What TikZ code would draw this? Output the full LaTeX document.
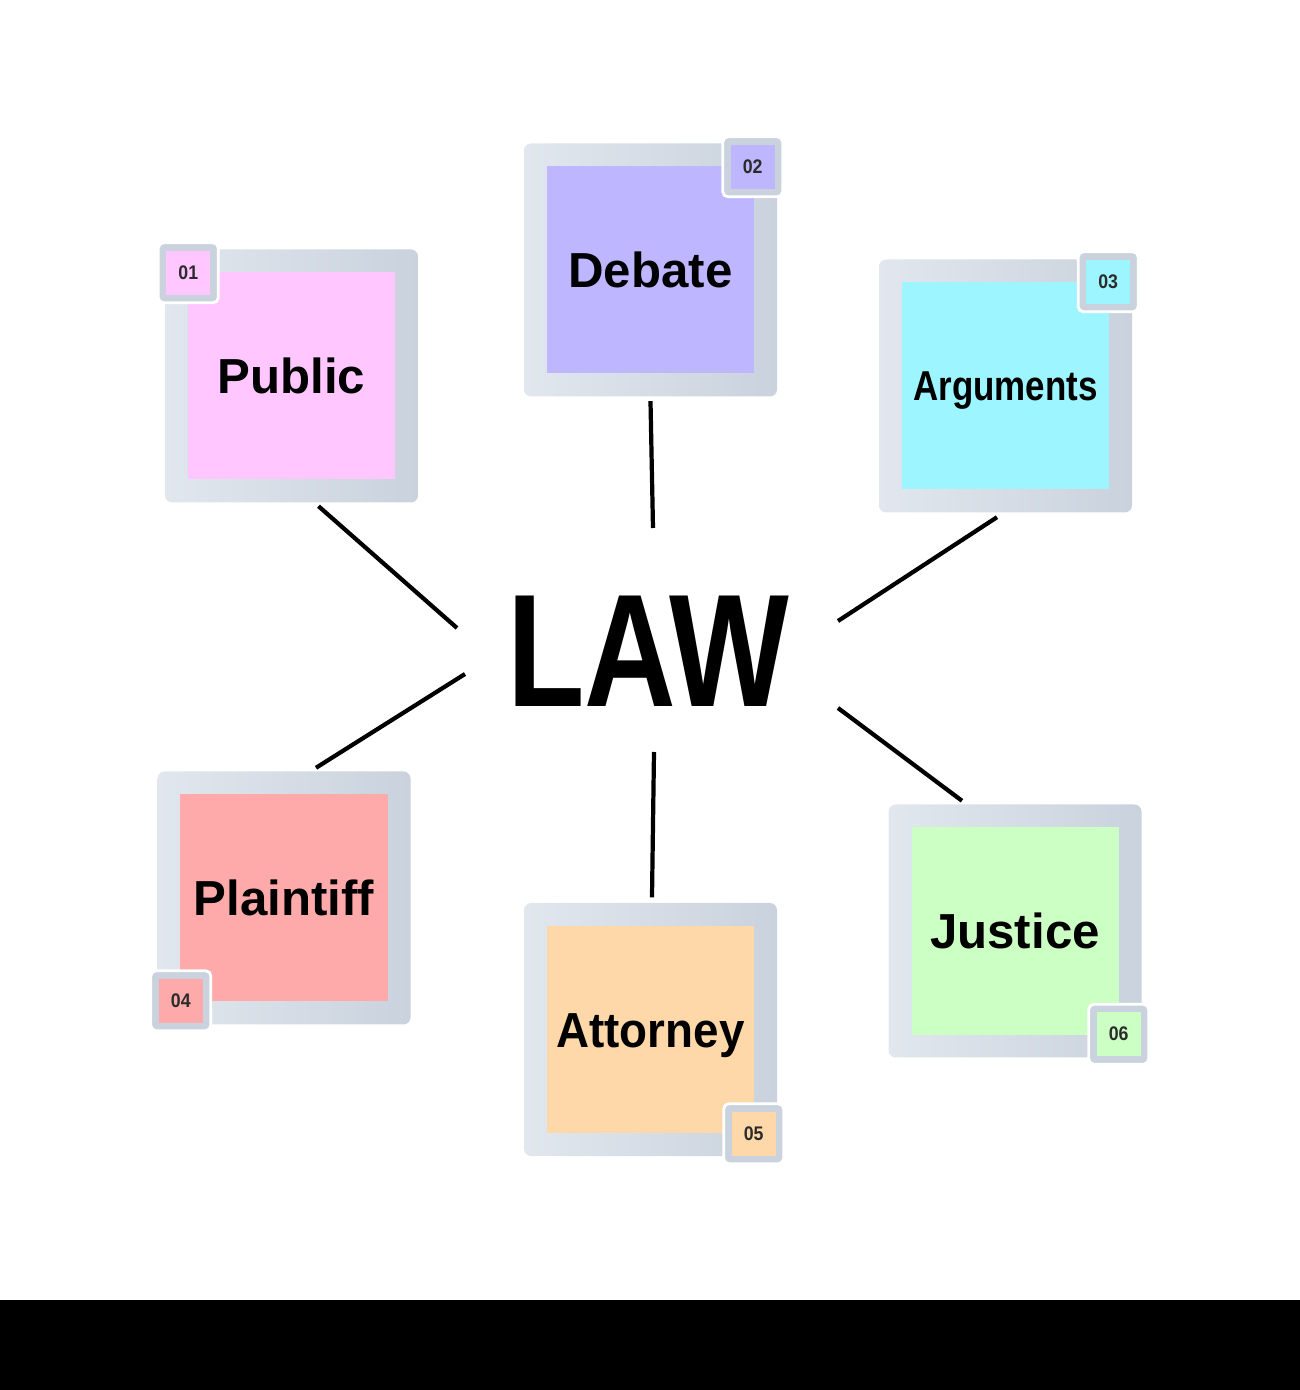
\documentclass[tikz,border=0pt]{standalone}
\usepackage{fontspec}
\setmainfont{Liberation Sans}

\definecolor{frameL}{HTML}{E2E7EE}
\definecolor{frameR}{HTML}{C9D2DD}
\definecolor{numC}{HTML}{2B2B2B}
\definecolor{pubC}{HTML}{FFC6FF}
\definecolor{debC}{HTML}{BEB6FF}
\definecolor{argC}{HTML}{9DF6FF}
\definecolor{plaC}{HTML}{FFAAAA}
\definecolor{attC}{HTML}{FFD8A9}
\definecolor{jusC}{HTML}{CCFFC4}

\begin{document}
\begin{tikzpicture}
[frame/.style={rounded corners=2pt, left color=frameL, right color=frameR, minimum size=2.53cm, inner sep=0pt}, tile/.style={minimum size=2.07cm, inner sep=0pt, font=\fontsize{14}{16}\selectfont\bfseries, text height=0.35cm, text depth=0pt}, badge/.style={rounded corners=1.5pt, fill=frameR, draw=white, line width=0.8pt, minimum size=0.6cm, inner sep=0pt}, badge in/.style={minimum size=0.44cm, inner sep=0pt, text=numC, font=\fontsize{5.6}{6}\selectfont\bfseries}, link/.style={line width=1.2pt, black}, hub/.style={anchor=base, font=\fontsize{45.7}{50}\selectfont\bfseries}]
    \useasboundingbox (0,0) rectangle (13,13.9);
    \fill[black] (0,0) rectangle (13,0.9);
    \node[hub] (law) at (6.48,6.83) {\scalebox{0.79}[1]{LAW}};
    \coordinate (hubPub) at (4.57,7.62);
    \coordinate (hubDeb) at (6.53,8.62);
    \coordinate (hubArg) at (8.38,7.69);
    \coordinate (hubPla) at (4.65,7.16);
    \coordinate (hubAtt) at (6.54,6.38);
    \coordinate (hubJus) at (8.38,6.82);
    % boxes
    \node[frame] (pub) at (2.915,10.14) {};
    \node[tile, fill=pubC] (pubT) at (pub) {Public};
    \node[badge] (pubN) at ([shift={(0.24,-0.24)}]pub.north west) {};
    \node[badge in, fill=pubC] (pubNum) at (pubN) {\scalebox{0.9}[1]{01}};
    \node[frame] (deb) at (6.505,11.20) {};
    \node[tile, fill=debC] (debT) at (deb) {Debate};
    \node[badge] (debN) at ([shift={(-0.25,-0.24)}]deb.north east) {};
    \node[badge in, fill=debC] (debNum) at (debN) {\scalebox{0.9}[1]{02}};
    \node[frame] (arg) at (10.055,10.04) {};
    \node[tile, fill=argC, text height=0.30cm] (argT) at (arg) {\scalebox{0.71}[0.85]{Arguments}};
    \node[badge] (argN) at ([shift={(-0.245,-0.23)}]arg.north east) {};
    \node[badge in, fill=argC] (argNum) at (argN) {\scalebox{0.9}[1]{03}};
    \node[frame] (pla) at (2.84,4.92) {};
    \node[tile, fill=plaC] (plaT) at (pla) {Plaintiff};
    \node[badge] (plaN) at ([shift={(0.24,0.245)}]pla.south west) {};
    \node[badge in, fill=plaC] (plaNum) at (plaN) {\scalebox{0.9}[1]{04}};
    \node[frame] (att) at (6.505,3.605) {};
    \node[tile, fill=attC] (attT) at (att) {\scalebox{0.93}[1]{Attorney}};
    \node[badge] (attN) at ([shift={(-0.24,0.23)}]att.south east) {};
    \node[badge in, fill=attC] (attNum) at (attN) {\scalebox{0.9}[1]{05}};
    \node[frame] (jus) at (10.15,4.59) {};
    \node[tile, fill=jusC] (jusT) at (jus) {Justice};
    \node[badge] (jusN) at ([shift={(-0.235,0.24)}]jus.south east) {};
    \node[badge in, fill=jusC] (jusNum) at (jusN) {\scalebox{0.9}[1]{06}};
    % spokes
    \draw[link] ([shift={(0.27,-0.03)}]pub.south) -- (hubPub);
    \draw[link] ([yshift=-0.04cm]deb.south) -- (hubDeb);
    \draw[link] ([shift={(-0.085,-0.04)}]arg.south) -- (hubArg);
    \draw[link] ([shift={(0.32,0.03)}]pla.north) -- (hubPla);
    \draw[link] ([shift={(0.015,0.05)}]att.north) -- (hubAtt);
    \draw[link] ([shift={(-0.53,0.03)}]jus.north) -- (hubJus);
\end{tikzpicture}
\end{document}
